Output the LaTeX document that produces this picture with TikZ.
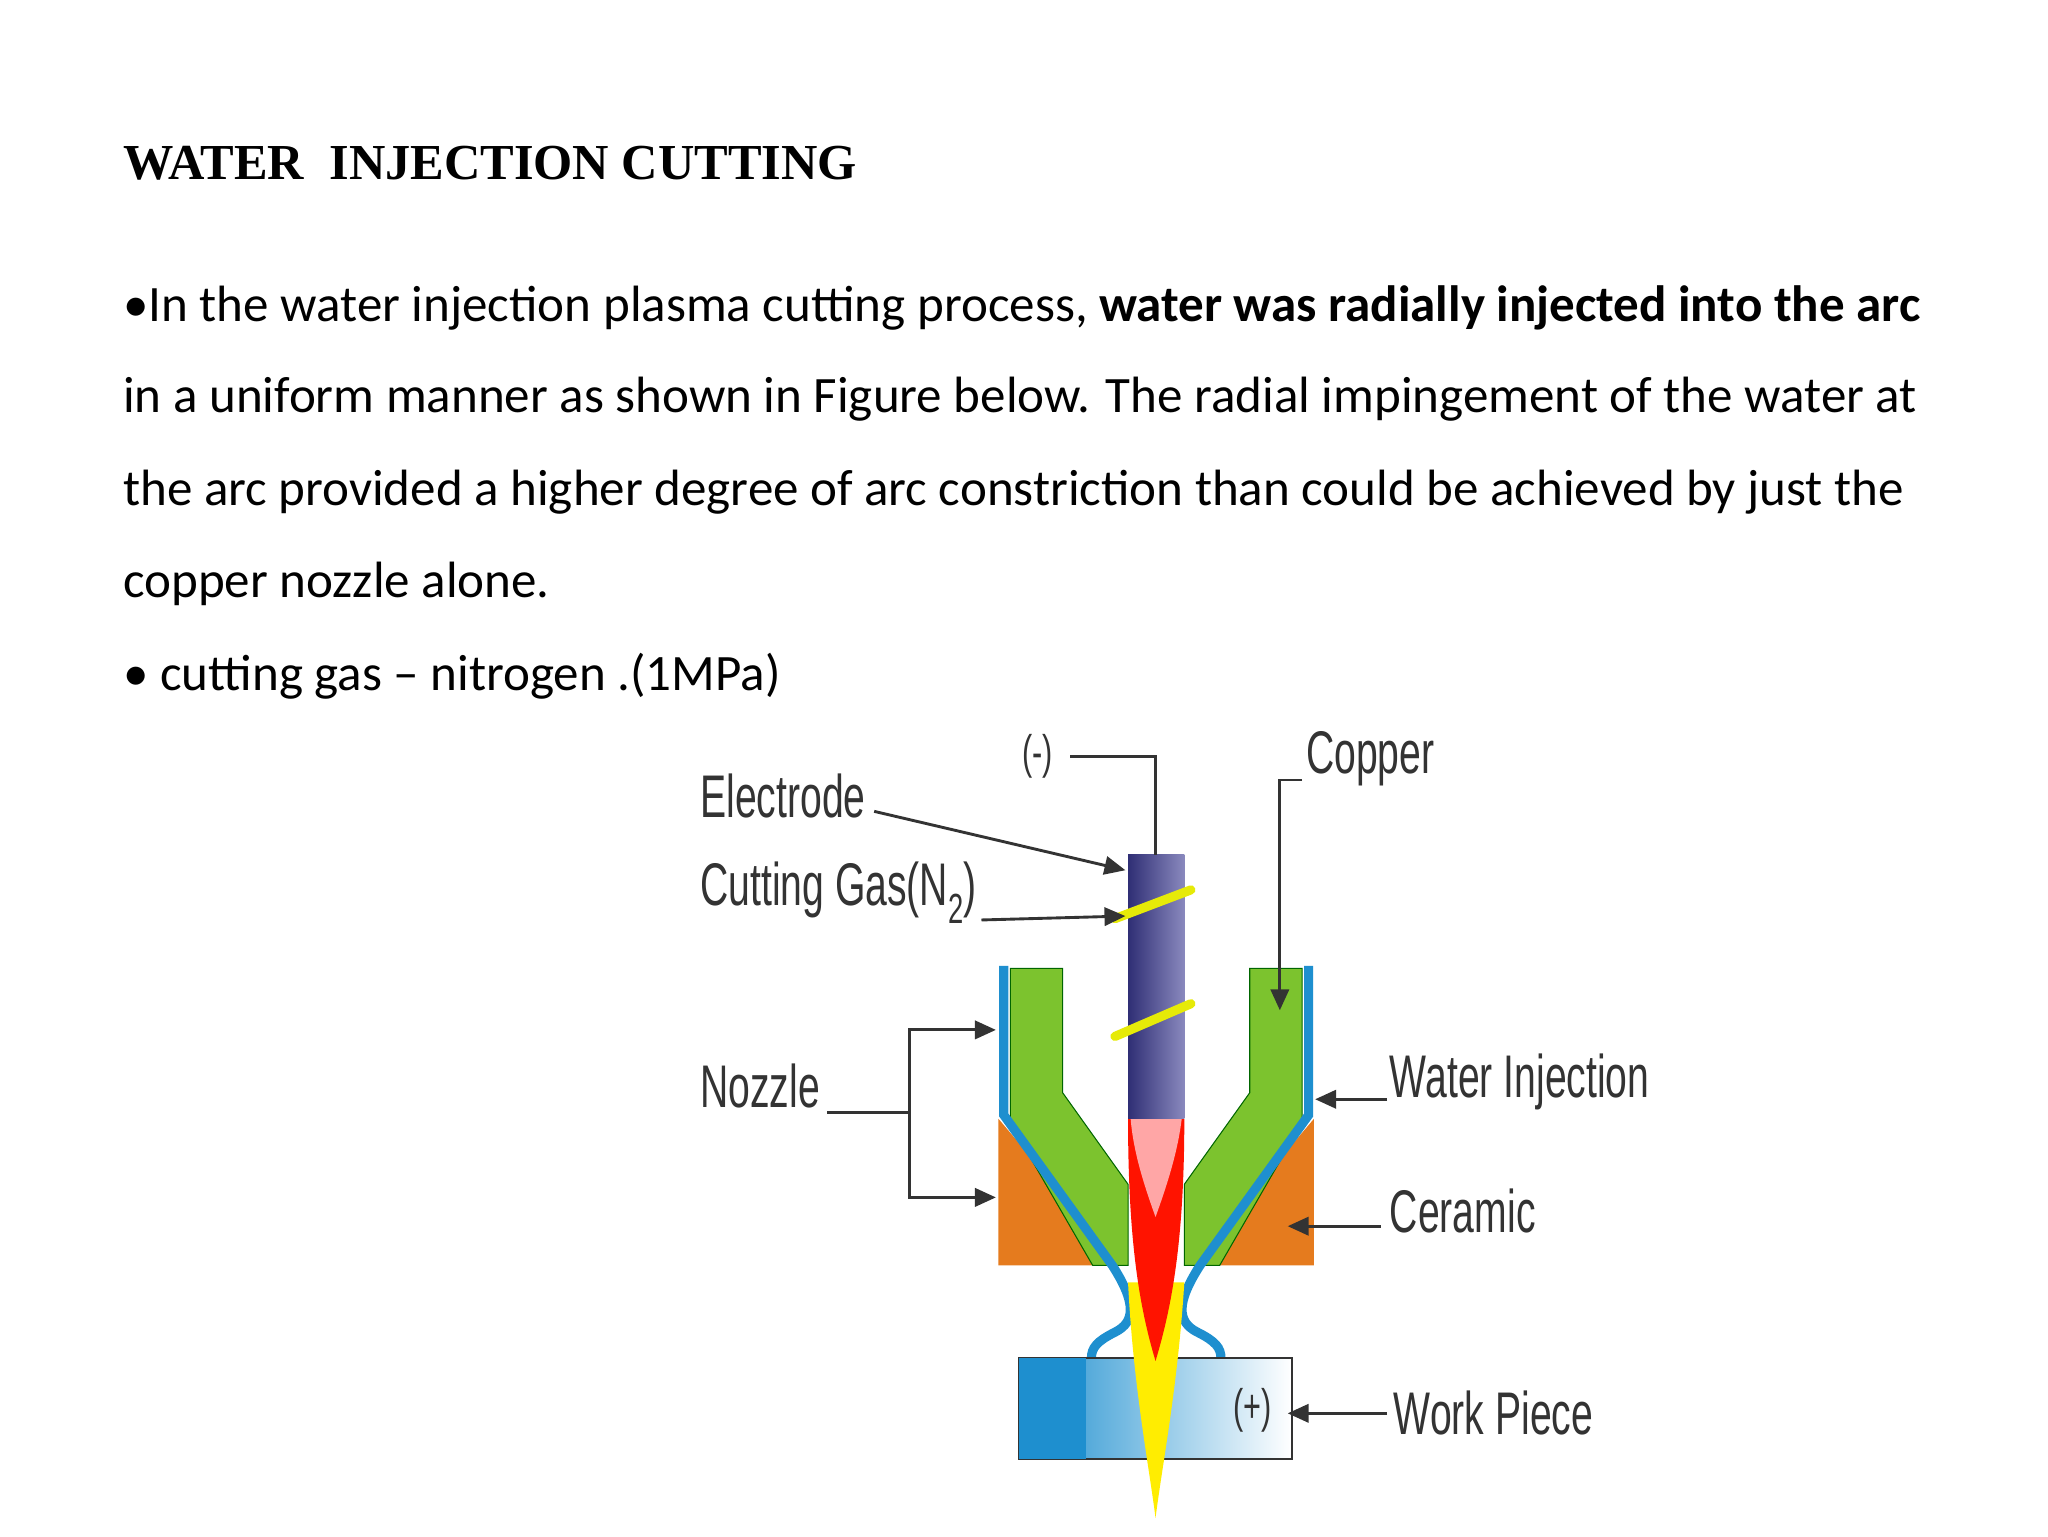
\documentclass[tikz,border=0pt]{standalone}
\usepackage{fontspec}
\setmainfont{Carlito}
\newfontfamily\titlefont{Liberation Serif}
\newfontfamily\labfont{Liberation Sans}
\usetikzlibrary{arrows.meta}
\definecolor{cgreen}{HTML}{7CC32E}
\definecolor{corange}{HTML}{E57B1E}
\definecolor{cblue}{HTML}{1E8FCF}
\definecolor{cpurple}{HTML}{3B3A92}
\definecolor{labgray}{HTML}{333333}
\begin{document}
\begin{tikzpicture}[x=1pt,y=-1pt,
  body/.style={anchor=west,inner sep=0pt,font=\fontsize{39}{44}\selectfont},
  lab/.style={inner sep=0pt,text=labgray,font=\labfont\fontsize{46}{50}\selectfont,xscale=0.65},
  lead/.style={labgray,line width=2.2pt},
  arr/.style={lead,-{Triangle[length=16pt,width=14pt]}}]
\useasboundingbox (0,0) rectangle (1565,1174);
\fill[white] (0,0) rectangle (1565,1174);
% text
\node[body,font=\titlefont\bfseries\fontsize{38.5}{44}\selectfont] (title) at (94,125) {WATER\ \ INJECTION CUTTING};
\node[body] (l1) at (94,235) {•In the water injection plasma cutting process, \textbf{water was radially injected into the arc}};
\node[body] (l2) at (94,305) {in a uniform manner as shown in Figure below. The radial impingement of the water at};
\node[body] (l3) at (94,376) {the arc provided a higher degree of arc constriction than could be achieved by just the};
\node[body] (l4) at (94,446) {copper nozzle alone.};
\node[body] (l5) at (94,517) {• cutting gas – nitrogen .(1MPa)};
% ceramic
\fill[corange] (763,855) -- (763,967) -- (858,967) -- cycle;
\fill[corange] (1004,855) -- (1004,967) -- (909,967) -- cycle;
% green copper
\fill[cgreen,draw=black!60!green,line width=0.8pt] (772,740) -- (812,740) -- (812,835) -- (862,905) -- (862,967) -- (835,967) -- (772,858) -- cycle;
\fill[cgreen,draw=black!60!green,line width=0.8pt] (995,740) -- (955,740) -- (955,835) -- (905,905) -- (905,967) -- (932,967) -- (995,858) -- cycle;
% blue water lines
\draw[cblue,line width=7pt] (767,738) -- (767,852) -- (850,967) .. controls (868,995) and (868,1010) .. (852,1018) .. controls (838,1025) and (834,1030) .. (834,1038);
\draw[cblue,line width=7pt] (1000,738) -- (1000,852) -- (917,967) .. controls (899,995) and (899,1010) .. (915,1018) .. controls (929,1025) and (933,1030) .. (933,1038);
% workpiece
\shade[left color=cblue,right color=white,draw=labgray,line width=1.5pt] (779,1038) rectangle (987,1115);
\fill[cblue] (779,1038) rectangle (830,1115);
\node[lab,font=\labfont\fontsize{36}{40}\selectfont] (plus) at (957,1078) {(+)};
% flame
\fill[yellow!95!orange] (862,980) .. controls (866,1060) and (878,1120) .. (883,1160) .. controls (888,1120) and (900,1060) .. (905,980) -- cycle;
\fill[red!85!orange] (862,855) -- (905,855) .. controls (905,950) and (895,1000) .. (883,1040) .. controls (871,1000) and (862,950) .. (862,855) -- cycle;
\fill[red!35!white] (864,855) -- (903,855) .. controls (900,880) and (892,905) .. (883,930) .. controls (874,905) and (866,880) .. (864,855) -- cycle;
% electrode
\shade[left color=cpurple!80!black,right color=cpurple!60!white] (862,653) rectangle (905,855);
\draw[yellow!90!green,line width=7pt,line cap=round] (852,702) -- (910,680);
\draw[yellow!90!green,line width=7pt,line cap=round] (852,792) -- (910,767);
% labels
\node[lab,anchor=west] (electrode) at (535,608) {Electrode};
\node[lab,anchor=west] (gas) at (535,682) {Cutting Gas(N\textsubscript{2})};
\node[lab,font=\labfont\fontsize{36}{40}\selectfont] (minus) at (793,578) {(-)};
\node[lab,anchor=west] (copper) at (998,580) {Copper};
\node[lab,anchor=west] (nozzle) at (535,830) {Nozzle};
\node[lab,anchor=west] (water) at (1062,827) {Water Injection};
\node[lab,anchor=west] (ceramic) at (1062,925) {Ceramic};
\node[lab,anchor=west] (work) at (1065,1080) {Work Piece};
\coordinate (elec) at (883,653);
% leaders
\draw[arr] (668,620) -- (860,665);
\draw[arr] (750,703) -- (860,700);
\draw[lead] (818,578) -- (883,578) -- (elec);
\draw[arr] (995,596) -- (978,596) -- (978,772);
\draw[lead] (632,850) -- (695,850);
\draw[arr] (695,850) -- (695,787) -- (761,787);
\draw[arr] (695,850) -- (695,915) -- (761,915);
\draw[arr] (1060,840) -- (1005,840);
\draw[arr] (1055,937) -- (984,937);
\draw[arr] (1060,1080) -- (984,1080);
\end{tikzpicture}
\end{document}
